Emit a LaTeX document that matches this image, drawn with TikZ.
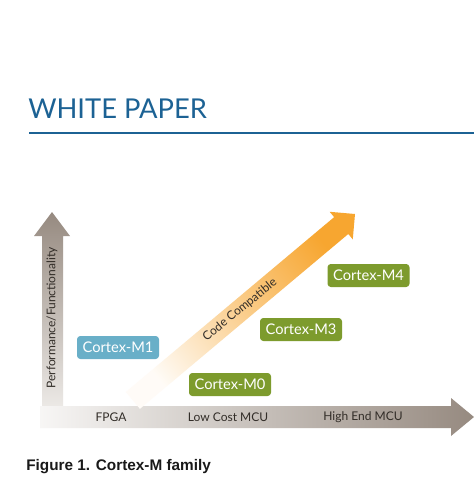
\documentclass[tikz,border=0pt]{standalone}
\usepackage{fontspec}
\usepackage{tikz}
\usetikzlibrary{positioning,calc}
\newfontfamily\gillfont{Lato}
\newfontfamily\capfont{Liberation Sans}
\definecolor{wpblue}{RGB}{28,98,148}
\definecolor{axisdark}{RGB}{150,138,128}
\definecolor{axislight}{RGB}{236,233,230}
\definecolor{codeorange}{RGB}{247,166,48}
\definecolor{mblue}{RGB}{105,175,200}
\definecolor{mgreen}{RGB}{125,155,45}
\definecolor{labeltext}{RGB}{50,45,40}

\begin{document}
\begin{tikzpicture}[x=0.75pt,y=-0.75pt,
    chip/.style={rounded corners=2.5pt,minimum width=61.5pt,minimum height=17.25pt,
      inner sep=0pt,text=white,font=\gillfont\fontsize{11}{13}\selectfont},
    axislabel/.style={text=labeltext,inner sep=0pt,font=\gillfont\fontsize{9}{11}\selectfont}]
      \useasboundingbox[fill=white] (0,0) rectangle (474,478);
      % header
      \node[anchor=base west,inner sep=0pt,text=wpblue,font=\gillfont\fontsize{20.5}{24}\selectfont] (title) at (28,118) {WHITE PAPER};
      \draw[wpblue,line width=1.5pt] (29,133) -- (474,133);
      % axes
      \shade[top color=axisdark,bottom color=axislight] (42,407) -- (42,236) -- (34,236) -- (52,212) -- (70,236) -- (63,236) -- (63,407) -- cycle;
      \shade[left color=axislight!40,right color=axisdark] (40,406) -- (451,406) -- (451,398) -- (474,417) -- (451,436) -- (451,428) -- (40,428) -- cycle;
      % code compatible arrow
      \coordinate (tip) at (355,214);
      \coordinate (base) at ($(tip)+(140:18)$);
      \coordinate (tail) at ($(base)+(140:272)$);
      \shade[top color=codeorange,bottom color=codeorange!4,middle color=codeorange!55,shading angle=-50]
        ($(tail)+(50:11)$) -- ($(base)+(50:11)$) -- ($(base)+(50:18)$) -- (tip)
        -- ($(base)+(-130:18)$) -- ($(base)+(-130:11)$) -- ($(tail)+(-130:11)$) -- cycle;
      \node[axislabel,rotate=39] (compat) at (240,310) {Code Compatible};
      \node[axislabel,rotate=90] (perf) at (52,318) {Performance/Functionality};
      \node[axislabel] (fpga) at (111,417) {FPGA};
      \node[axislabel] (lowcost) at (228,417) {Low Cost MCU};
      \node[axislabel] (highend) at (363,417) {High End MCU};
      % cores
      \node[chip,fill=mblue] (m1) at (118,347.5) {Cortex-M1};
      \node[chip,fill=mgreen] (m0) at (230,384.5) {Cortex-M0};
      \node[chip,fill=mgreen] (m3) at (301,329.5) {Cortex-M3};
      \node[chip,fill=mgreen] (m4) at (368.5,275.5) {Cortex-M4};
      \node[anchor=base west,inner sep=0pt,text=black!90,font=\capfont\bfseries\fontsize{11.5}{13}\selectfont] (caption) at (26,470) {Figure 1. Cortex-M family};
\end{tikzpicture}
\end{document}
